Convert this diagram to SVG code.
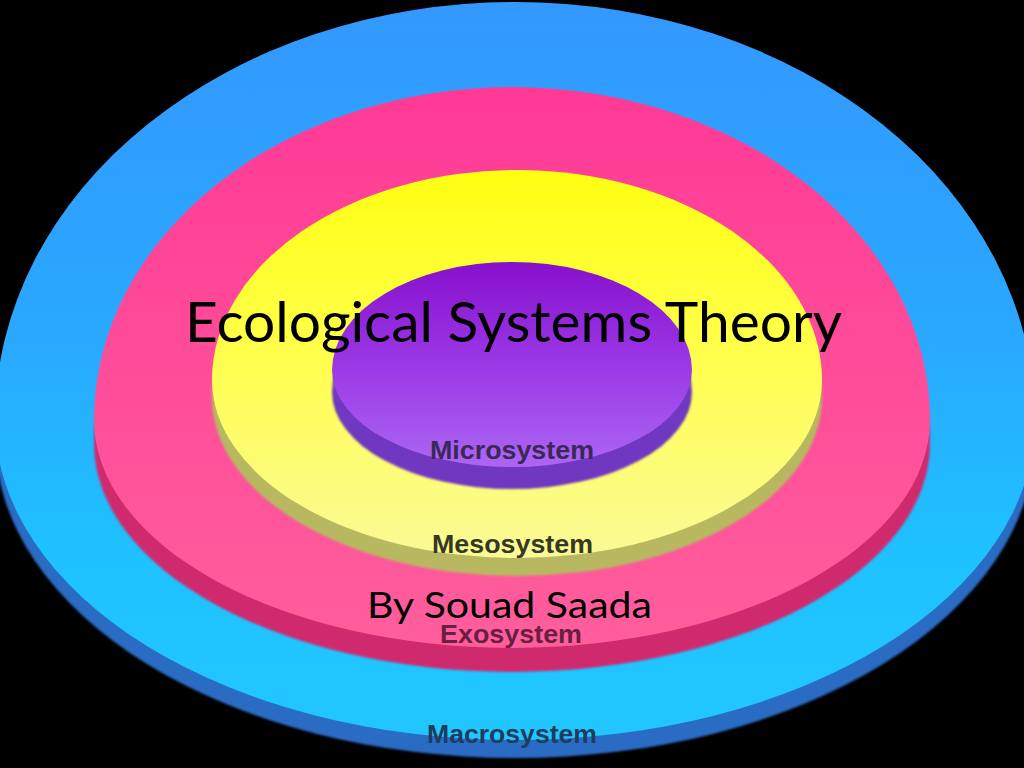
<svg xmlns="http://www.w3.org/2000/svg" width="1024" height="768" viewBox="0 0 1024 768">
<defs>
<style>
.lbl{font-family:"Liberation Sans",Arial,sans-serif;font-weight:bold;font-size:26px;text-anchor:middle}
.ttl{font-family:Lato,"Open Sans",sans-serif;fill:#000;text-anchor:middle}
</style>
<linearGradient id="gBlue" x1="0" y1="0" x2="0" y2="1">
<stop offset="0" stop-color="#3398ff"/><stop offset="0.45" stop-color="#2aa8ff"/><stop offset="0.75" stop-color="#1ec2ff"/><stop offset="1" stop-color="#22c6ff"/>
</linearGradient>
<linearGradient id="gPink" x1="0" y1="0" x2="0" y2="1">
<stop offset="0" stop-color="#ff3a96"/><stop offset="1" stop-color="#ff5e9c"/>
</linearGradient>
<linearGradient id="gYellow" x1="0" y1="0" x2="0" y2="1">
<stop offset="0" stop-color="#ffff12"/><stop offset="0.5" stop-color="#ffff50"/><stop offset="1" stop-color="#fafa98"/>
</linearGradient>
<linearGradient id="gPurple" x1="0" y1="0" x2="0" y2="1">
<stop offset="0" stop-color="#8810cc"/><stop offset="0.5" stop-color="#9a38e6"/><stop offset="1" stop-color="#ac66f2"/>
</linearGradient>
<filter id="soft" x="-5%" y="-5%" width="110%" height="110%"><feGaussianBlur stdDeviation="1.2"/></filter>
</defs>
<rect width="1024" height="768" fill="#000"/>
<g id="macrosystem">
<path d="M-5,438 A520,418 0 0 1 1035,438 A520,320 0 0 1 -5,438 Z" fill="#2a6cc4" filter="url(#soft)"/>
<path d="M-5,420 A520,418 0 0 1 1035,420 A520,320 0 0 1 -5,420 Z" fill="url(#gBlue)"/>
<text class="lbl" x="512" y="743" textLength="170" lengthAdjust="spacingAndGlyphs" fill="#1d3c5e">Macrosystem</text>
</g>
<g id="exosystem">
<path d="M94,444 A418,333 0 0 1 930,444 A418,228 0 0 1 94,444 Z" fill="#cf2a6e" filter="url(#soft)"/>
<path d="M94,420 A418,333 0 0 1 930,420 A418,228 0 0 1 94,420 Z" fill="url(#gPink)"/>
<text class="lbl" x="511" y="643" textLength="142" lengthAdjust="spacingAndGlyphs" fill="#6a1e40">Exosystem</text>
</g>
<g id="mesosystem">
<path d="M212,398 A305,210 0 0 1 822,398 A305,178 0 0 1 212,398 Z" fill="#b8b860" filter="url(#soft)"/>
<path d="M212,380 A305,210 0 0 1 822,380 A305,178 0 0 1 212,380 Z" fill="url(#gYellow)"/>
<text class="lbl" x="512.5" y="553" textLength="161" lengthAdjust="spacingAndGlyphs" fill="#383822">Mesosystem</text>
</g>
<g id="microsystem">
<path d="M332,392 A180,108 0 0 1 692,392 A180,97 0 0 1 332,392 Z" fill="#7038c0" filter="url(#soft)"/>
<path d="M332,370 A180,108 0 0 1 692,370 A180,97 0 0 1 332,370 Z" fill="url(#gPurple)"/>
<text class="lbl" x="512" y="459" textLength="164" lengthAdjust="spacingAndGlyphs" fill="#3a2858">Microsystem</text>
</g>
<g id="connectors"/>
<g id="title">
<text class="ttl" x="513.5" y="342" font-size="56" textLength="657" lengthAdjust="spacingAndGlyphs">Ecological Systems Theory</text>
<text class="ttl" x="509.5" y="618" font-size="36" textLength="285" lengthAdjust="spacingAndGlyphs">By Souad Saada</text>
</g>
</svg>
